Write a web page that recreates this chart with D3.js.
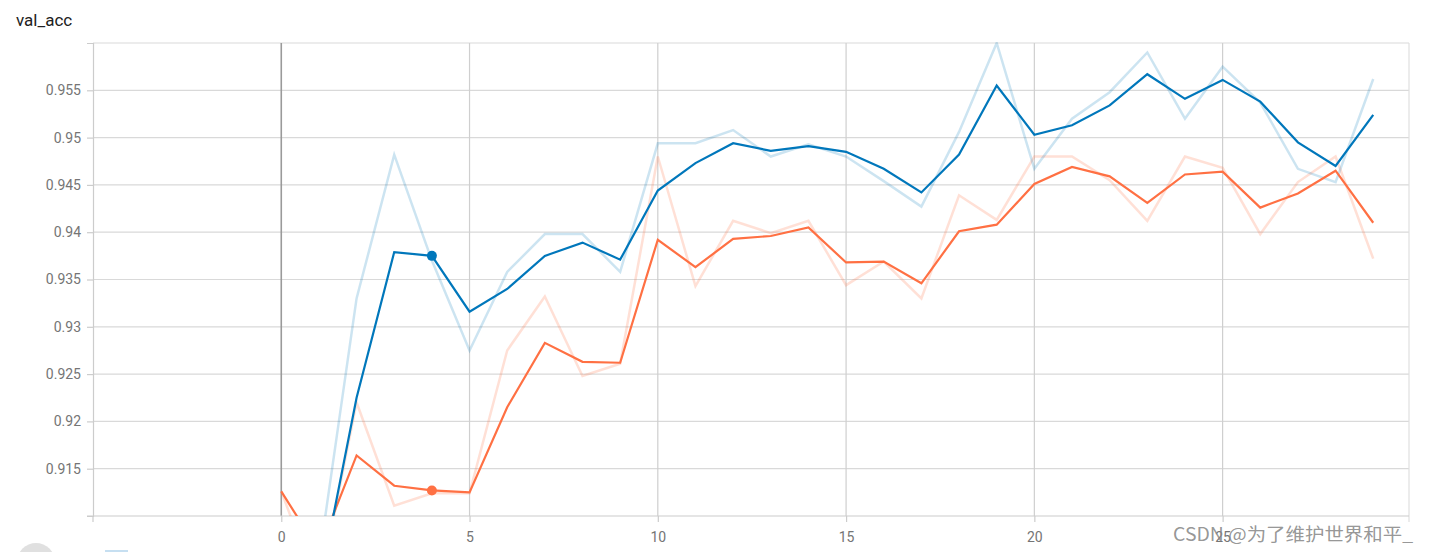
<!DOCTYPE html>
<html>
<head>
<meta charset="utf-8">
<script src="https://cdn.jsdelivr.net/npm/d3@7"></script>
<style>
  html, body { margin: 0; padding: 0; background: #fff; overflow: hidden; }
  svg { display: block; font-family: Roboto, "Noto Sans", sans-serif; }
</style>
</head>
<body>
<svg id="chart" width="1430" height="552"></svg>
<script>
// ---- data ----
const steps = [0,1,2,3,4,5,6,7,8,9,10,11,12,13,14,15,16,17,18,19,20,21,22,23,24,25,26,27,28,29];
const blueRaw = [0.900,0.9053,0.933,0.9482,0.937,0.9275,0.9358,0.9398,0.9398,0.9358,0.9494,0.9494,0.9508,0.948,0.9493,0.948,0.9454,0.9427,0.9506,0.960,0.9467,0.952,0.9548,0.959,0.952,0.9575,0.9537,0.9467,0.9453,0.9562];
const blueSmooth = [0.900,0.9023,0.9225,0.9379,0.9375,0.9316,0.934,0.9375,0.9389,0.9371,0.9444,0.9473,0.9494,0.9486,0.9491,0.9485,0.9467,0.9442,0.9482,0.9555,0.9503,0.9513,0.9534,0.9567,0.9541,0.9561,0.9538,0.9495,0.947,0.9524];
const orangeRaw = [0.9126,0.902,0.922,0.9111,0.9124,0.9124,0.9275,0.9332,0.9248,0.9261,0.948,0.9343,0.9412,0.9399,0.9412,0.9344,0.9369,0.933,0.9439,0.9413,0.948,0.948,0.9455,0.9412,0.948,0.9468,0.9398,0.9453,0.948,0.9372];
const orangeSmooth = [0.9126,0.9063,0.9164,0.9132,0.9127,0.9125,0.9215,0.9283,0.9263,0.9262,0.9392,0.9363,0.9393,0.9396,0.9405,0.9368,0.9369,0.9346,0.9401,0.9408,0.9451,0.9469,0.9459,0.9431,0.9461,0.9464,0.9426,0.9441,0.9465,0.941];
const xTicks = [0,5,10,15,20,25];
const yTicks = [0.915,0.92,0.925,0.93,0.935,0.94,0.945,0.95,0.955];
const yTickLabels = ["0.915","0.92","0.925","0.93","0.935","0.94","0.945","0.95","0.955"];
const markerStep = 4;
const title = "val_acc";
const watermark = "CSDN @为了维护世界和平_";

// ---- layout ----
const svg = d3.select("#chart");
const L = 93, R = 1409, T = 43, B = 516;
const x = d3.scaleLinear().domain([-5, 29.95]).range([L, R]);
const y = d3.scaleLinear().domain([0.91, 0.96]).range([B, T]);

svg.append("text").attr("x", 16).attr("y", 26)
  .attr("font-size", 17).attr("fill", "#212121").text(title);

// grid
const grid = svg.append("g");
grid.selectAll("line.h").data([...yTicks, 0.96]).enter().append("line")
  .attr("x1", L).attr("x2", R).attr("y1", d => y(d)).attr("y2", d => y(d))
  .attr("stroke", "#d9d9d9").attr("stroke-width", 1.2);
grid.selectAll("line.v").data([5,10,15,20,25]).enter().append("line")
  .attr("x1", d => x(d)).attr("x2", d => x(d)).attr("y1", T).attr("y2", B)
  .attr("stroke", "#cfcfcf").attr("stroke-width", 1.2);
grid.append("line").attr("x1", R).attr("x2", R).attr("y1", T).attr("y2", B + 6)
  .attr("stroke", "#e0e0e0").attr("stroke-width", 1.2);
grid.append("line").attr("x1", x(0)).attr("x2", x(0)).attr("y1", T).attr("y2", B)
  .attr("stroke", "#9a9a9a").attr("stroke-width", 1.6);

// axes
const yAxis = d3.axisLeft(y).tickValues(yTicks).tickFormat((d, i) => yTickLabels[i]).tickSize(6).tickPadding(6);
const gy = svg.append("g").attr("transform", `translate(${L},0)`).call(yAxis);
gy.select(".domain").attr("stroke", "#cccccc").attr("stroke-width", 1.2);
gy.selectAll(".tick line").attr("stroke", "#cccccc").attr("stroke-width", 1.2);
gy.selectAll(".tick text").attr("fill", "#757575").attr("font-size", 14).attr("font-family", "Roboto");

const xAxis = d3.axisBottom(x).tickValues(xTicks).tickSize(6).tickPadding(10);
const gx = svg.append("g").attr("transform", `translate(0,${B})`).call(xAxis);
gx.select(".domain").attr("stroke", "#cccccc").attr("stroke-width", 1.2).attr("d", `M${L-6},0H${R}`);
gx.selectAll(".tick line").attr("stroke", "#cccccc").attr("stroke-width", 1.2);
gx.selectAll(".tick text").attr("fill", "#757575").attr("font-size", 14).attr("font-family", "Roboto");
gx.append("line").attr("x1", L).attr("x2", L).attr("y1", 0).attr("y2", 6).attr("stroke", "#cccccc").attr("stroke-width", 1.2);

// clip
svg.append("clipPath").attr("id", "clip").append("rect")
  .attr("x", L).attr("y", T - 1).attr("width", R - L).attr("height", B - T + 1);

const line = d3.line().x((d, i) => x(steps[i])).y(d => y(d));
const plot = svg.append("g").attr("clip-path", "url(#clip)");
const blue = "#0077bb", orange = "#ff7043";

plot.append("path").datum(orangeRaw).attr("d", line).attr("fill", "none")
  .attr("stroke", orange).attr("stroke-opacity", 0.22).attr("stroke-width", 2.5).attr("stroke-linejoin", "miter");
plot.append("path").datum(blueRaw).attr("d", line).attr("fill", "none")
  .attr("stroke", blue).attr("stroke-opacity", 0.2).attr("stroke-width", 2.5).attr("stroke-linejoin", "miter");
plot.append("path").datum(orangeSmooth).attr("d", line).attr("fill", "none")
  .attr("stroke", orange).attr("stroke-width", 2.2);
plot.append("path").datum(blueSmooth).attr("d", line).attr("fill", "none")
  .attr("stroke", blue).attr("stroke-width", 2.2);

svg.append("circle").attr("cx", x(markerStep)).attr("cy", y(blueSmooth[markerStep])).attr("r", 5).attr("fill", blue);
svg.append("circle").attr("cx", x(markerStep)).attr("cy", y(orangeSmooth[markerStep])).attr("r", 5).attr("fill", orange);

// partial UI bits at bottom-left
svg.append("circle").attr("cx", 36).attr("cy", 562).attr("r", 19).attr("fill", "#e0e0e0");
svg.append("rect").attr("x", 105).attr("y", 550).attr("width", 23).attr("height", 2).attr("fill", "#c6dff1");

// watermark (overlaps the "25" tick label, as in the reference screenshot)
svg.append("text").attr("x", 1173).attr("y", 541).attr("font-size", 18)
  .attr("textLength", 240).attr("lengthAdjust", "spacingAndGlyphs")
  .attr("font-family", "'Noto Sans CJK SC', 'Noto Sans', sans-serif")
  .attr("fill", "#8a8a8a").attr("fill-opacity", 0.9).text(watermark);
</script>
</body>
</html>
